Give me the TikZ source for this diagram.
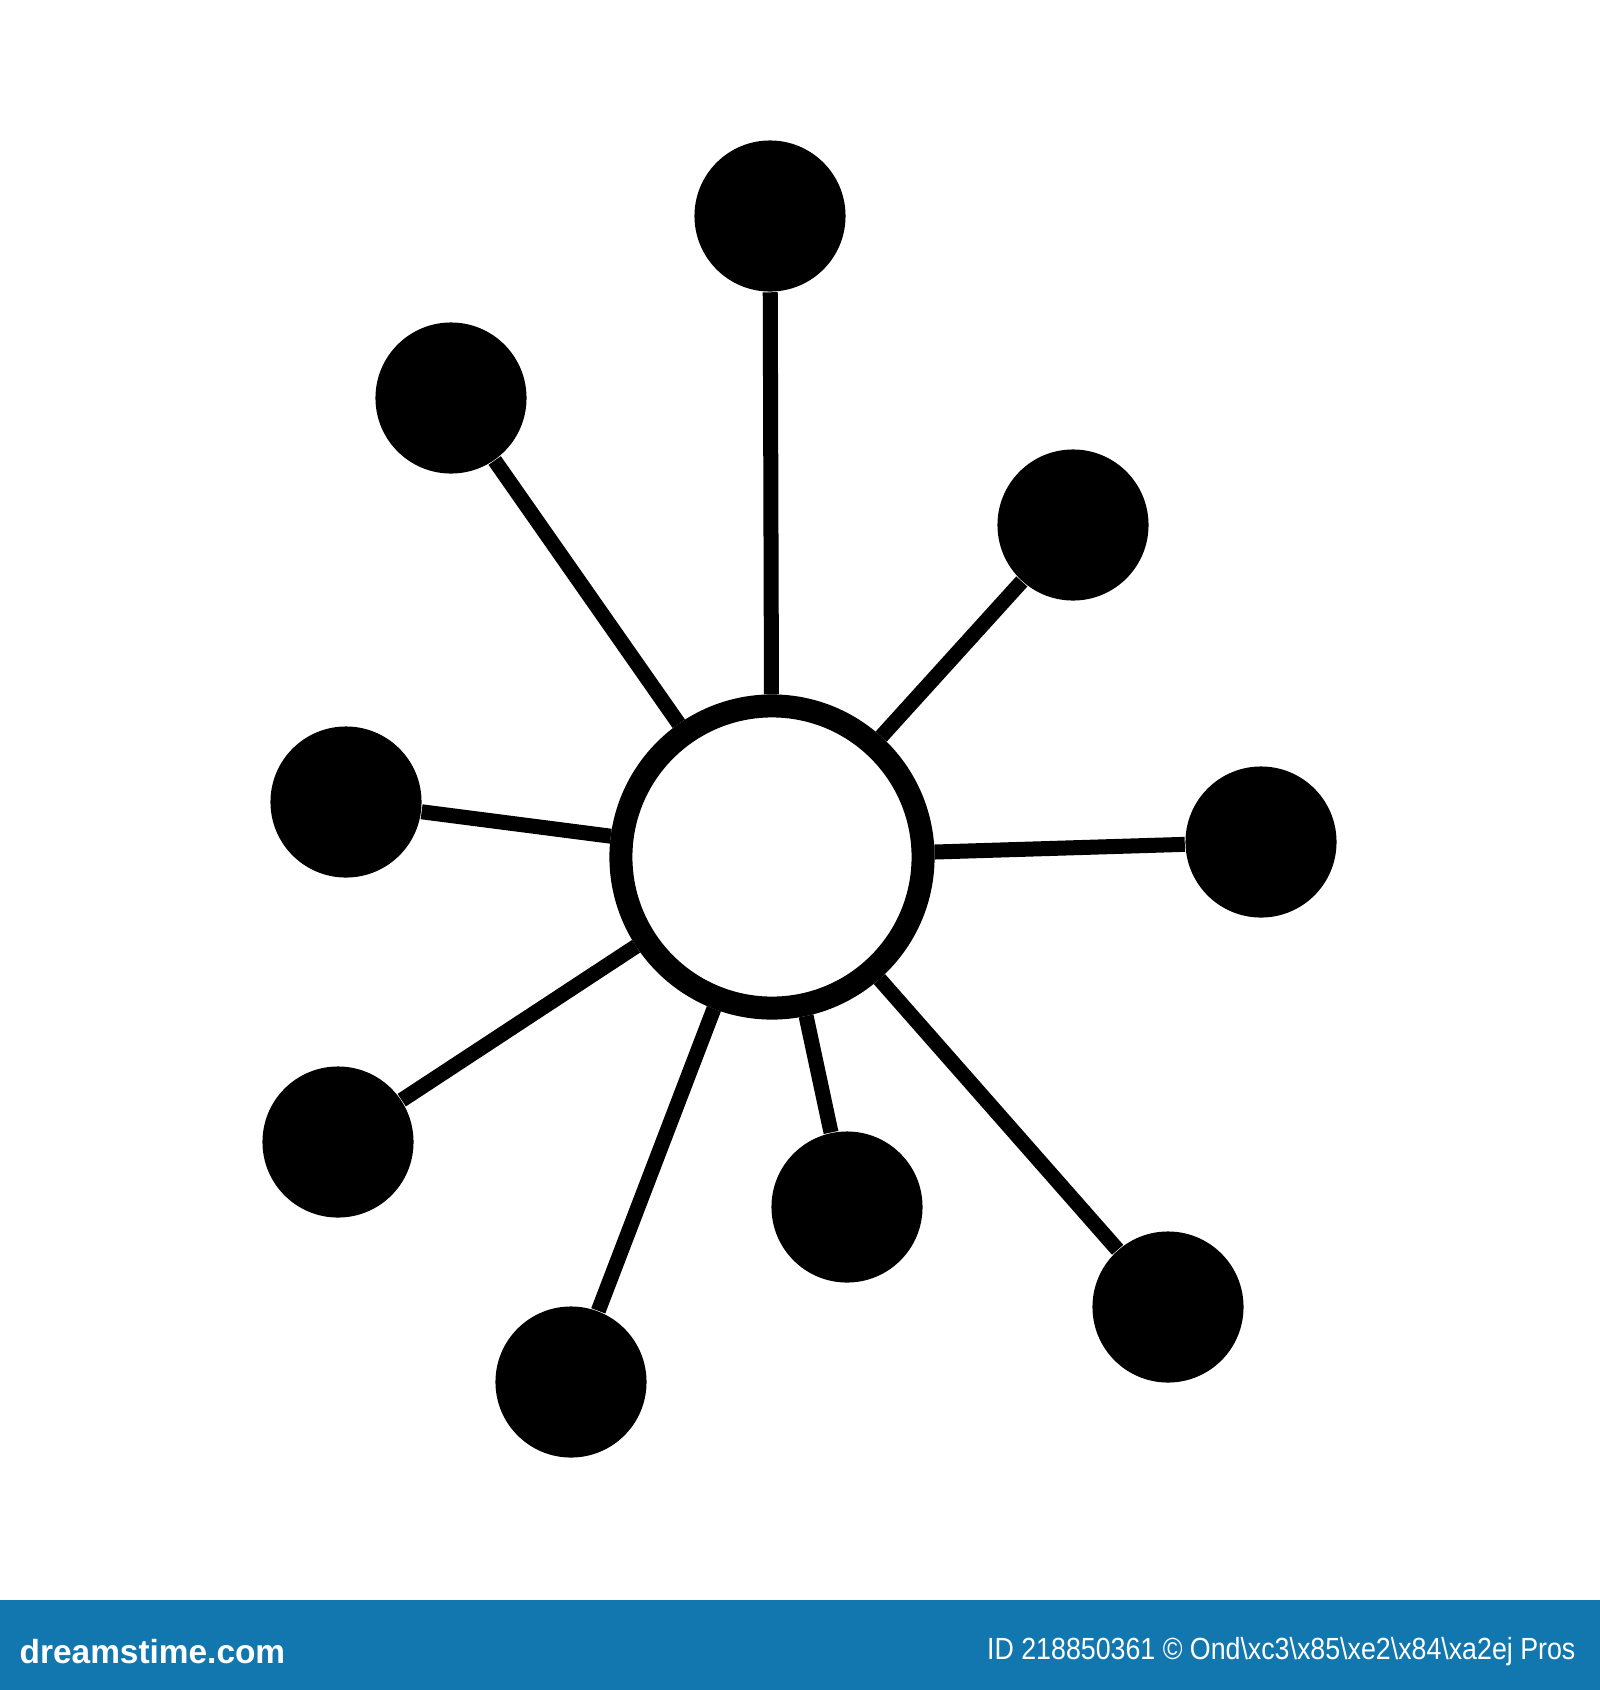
\documentclass[tikz,border=0pt]{standalone}
\usepackage{fontspec}
\setmainfont{Liberation Sans}
\usepackage{tikz}
\usetikzlibrary{backgrounds}
\usepackage{xcolor}
\definecolor{bar-blue}{RGB}{18,119,175}
\tikzstyle{leaf}=[circle, fill=black, minimum size=1.51cm, inner sep=0pt]
\tikzstyle{hubring}=[circle, draw=black, fill=white, line width=0.23cm, minimum size=3.02cm, inner sep=0pt]
\tikzstyle{spoke}=[line width=0.15cm]
\tikzstyle{bartext}=[text=white, inner sep=0pt]

\begin{document}
\begin{tikzpicture}[x=0.01cm, y=-0.01cm]
	\useasboundingbox (0,0) rectangle (1600,1690);
	\node[hubring] (hub) at (772,857) {};
	\node[leaf] (top) at (770,216) {};
	\node[leaf] (upleft) at (451,398) {};
	\node[leaf] (upright) at (1073,525) {};
	\node[leaf] (left) at (346,802) {};
	\node[leaf] (right) at (1261,842) {};
	\node[leaf] (lowleft) at (338,1142) {};
	\node[leaf] (lowmidleft) at (571,1382) {};
	\node[leaf] (lowmid) at (847,1207) {};
	\node[leaf] (lowright) at (1168,1307) {};
	\begin{scope}[on background layer]
		\draw[spoke] (hub) -- (top);
		\draw[spoke] (hub) -- (upleft);
		\draw[spoke] (hub) -- (upright);
		\draw[spoke] (hub) -- (left);
		\draw[spoke] (hub) -- (right);
		\draw[spoke] (hub) -- (lowleft);
		\draw[spoke] (hub) -- (lowmidleft);
		\draw[spoke] (hub) -- (lowmid);
		\draw[spoke] (hub) -- (lowright);
	\end{scope}
	\fill[bar-blue] (0,1600) rectangle (1600,1690);
	\node[bartext, font=\bfseries\fontsize{9.5}{12}\selectfont, anchor=west] (logo) at (19,1652) {dreamstime.com};
	\node[bartext, font=\fontsize{8.7}{10}\selectfont, anchor=east, xscale=0.875] (credit) at (1576,1652) {ID 218850361 \textcopyright{} Ond\textbackslash xc3\textbackslash x85\textbackslash xe2\textbackslash x84\textbackslash xa2ej Pros};
\end{tikzpicture}
\end{document}
